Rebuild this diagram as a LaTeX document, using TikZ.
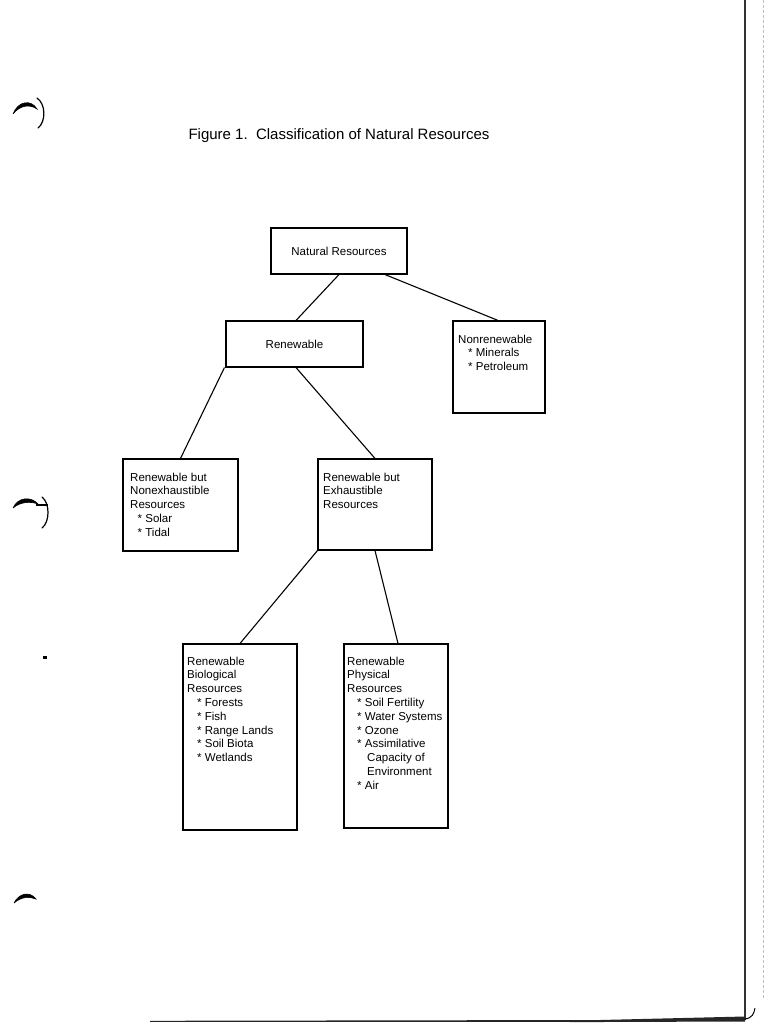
\documentclass[tikz,border=0pt]{standalone}
\usepackage{fontspec}
\setmainfont{Liberation Sans}
\setlength{\parindent}{0pt}
\begin{document}
\begin{tikzpicture}[x=1pt,y=-1pt,
  box/.style={draw,line width=1.1pt,rectangle,inner sep=0pt,
    font=\fontsize{11.5}{13.8}\selectfont},
  txt/.style={anchor=base west,inner sep=0pt,font=\fontsize{11.5}{13.8}\selectfont},
  link/.style={line width=1.1pt},
  holemark/.style={fill=black,draw=black,line width=0.6pt},
  scanline/.style={line width=1.2pt,line cap=round}]
\useasboundingbox (0,0) rectangle (768,1024);
\fill[white] (0,0) rectangle (768,1024);

% title
\node[inner sep=0pt,font=\fontsize{15}{18}\selectfont] (title) at (339,136)
  {Figure 1.\ \ Classification of Natural Resources};

% boxes
\node[box,minimum width=136pt,minimum height=46pt] (nr) at (339,251) {Natural Resources};
\node[box,minimum width=137pt,minimum height=46pt] (ren) at (294.5,344) {Renewable};
\node[box,minimum width=92pt,minimum height=92pt] (non) at (499,367) {};
\node[box,minimum width=115pt,minimum height=92pt] (nex) at (180.5,505) {};
\node[box,minimum width=114pt,minimum height=91pt] (exh) at (375,504.5) {};
\node[box,minimum width=114pt,minimum height=186pt] (bio) at (240,737) {};
\node[box,minimum width=104pt,minimum height=184pt] (phy) at (396,736) {};

% box texts
\node[txt] (nontxt) at (458,343) {\parbox[t]{90pt}{Nonrenewable\\
  \hspace*{10pt}* Minerals\\
  \hspace*{10pt}* Petroleum}};
\node[txt] (nextxt) at (130,481) {\parbox[t]{110pt}{Renewable but\\
  Nonexhaustible\\
  Resources\\
  \hspace*{7.5pt}* Solar\\
  \hspace*{7.5pt}* Tidal}};
\node[txt] (exhtxt) at (323,481) {\parbox[t]{110pt}{Renewable but\\
  Exhaustible\\
  Resources}};
\node[txt] (biotxt) at (187,665) {\parbox[t]{110pt}{Renewable\\
  Biological\\
  Resources\\
  \hspace*{10pt}* Forests\\
  \hspace*{10pt}* Fish\\
  \hspace*{10pt}* Range Lands\\
  \hspace*{10pt}* Soil Biota\\
  \hspace*{10pt}* Wetlands}};
\node[txt] (phytxt) at (347,665) {\parbox[t]{110pt}{Renewable\\
  Physical\\
  Resources\\
  \hspace*{10pt}* Soil Fertility\\
  \hspace*{10pt}* Water Systems\\
  \hspace*{10pt}* Ozone\\
  \hspace*{10pt}* Assimilative\\
  \hspace*{20pt}Capacity of\\
  \hspace*{20pt}Environment\\
  \hspace*{10pt}* Air}};

% connectors
\draw[link] (nr.south) -- ([xshift=1.5pt]ren.north);
\draw[link] ([xshift=46pt]nr.south) -- ([xshift=-1pt]non.north);
\draw[link] ([xshift=-1pt]ren.south west) -- (nex.north);
\draw[link] ([xshift=1.5pt]ren.south) -- (exh.north);
\draw[link] (exh.south west) -- (bio.north);
\draw[link] (exh.south) -- ([xshift=2pt]phy.north);

% scan artefacts: punch-hole marks, page edges
\path[holemark] (13,114) .. controls (18,101) and (31,99) .. (37,109)
  .. controls (30,104) and (20,105) .. (13,114);
\draw[scanline] (37,98) .. controls (46,104) and (46,122) .. (38,128);
\path[holemark] (13,508) .. controls (18,497) and (31,496) .. (38,504)
  .. controls (30,501) and (20,502) .. (13,508);
\draw[line width=1.3pt] (36,505) -- (48,505);
\draw[scanline] (42,497) .. controls (50,503) and (50,522) .. (42,528);
\path[holemark] (14,903) .. controls (19,893) and (30,891) .. (36,899)
  .. controls (29,896) and (21,897) .. (14,903);
\fill (43,656) rectangle (47,658.5);
\draw[line width=1.6pt,black!80] (745,0) -- (745,1020);
\draw[line width=0.8pt,black!25,dash pattern=on 3pt off 2pt] (763,0) -- (763,1000);
\fill[black!85] (150,1020.8) -- (600,1020) -- (745,1016.5) -- (745,1021.5)
  -- (600,1022) -- (150,1021.8) -- cycle;
\draw[line width=1pt] (745,1019) .. controls (752,1018) and (754,1014) .. (755,1008);
\end{tikzpicture}
\end{document}
